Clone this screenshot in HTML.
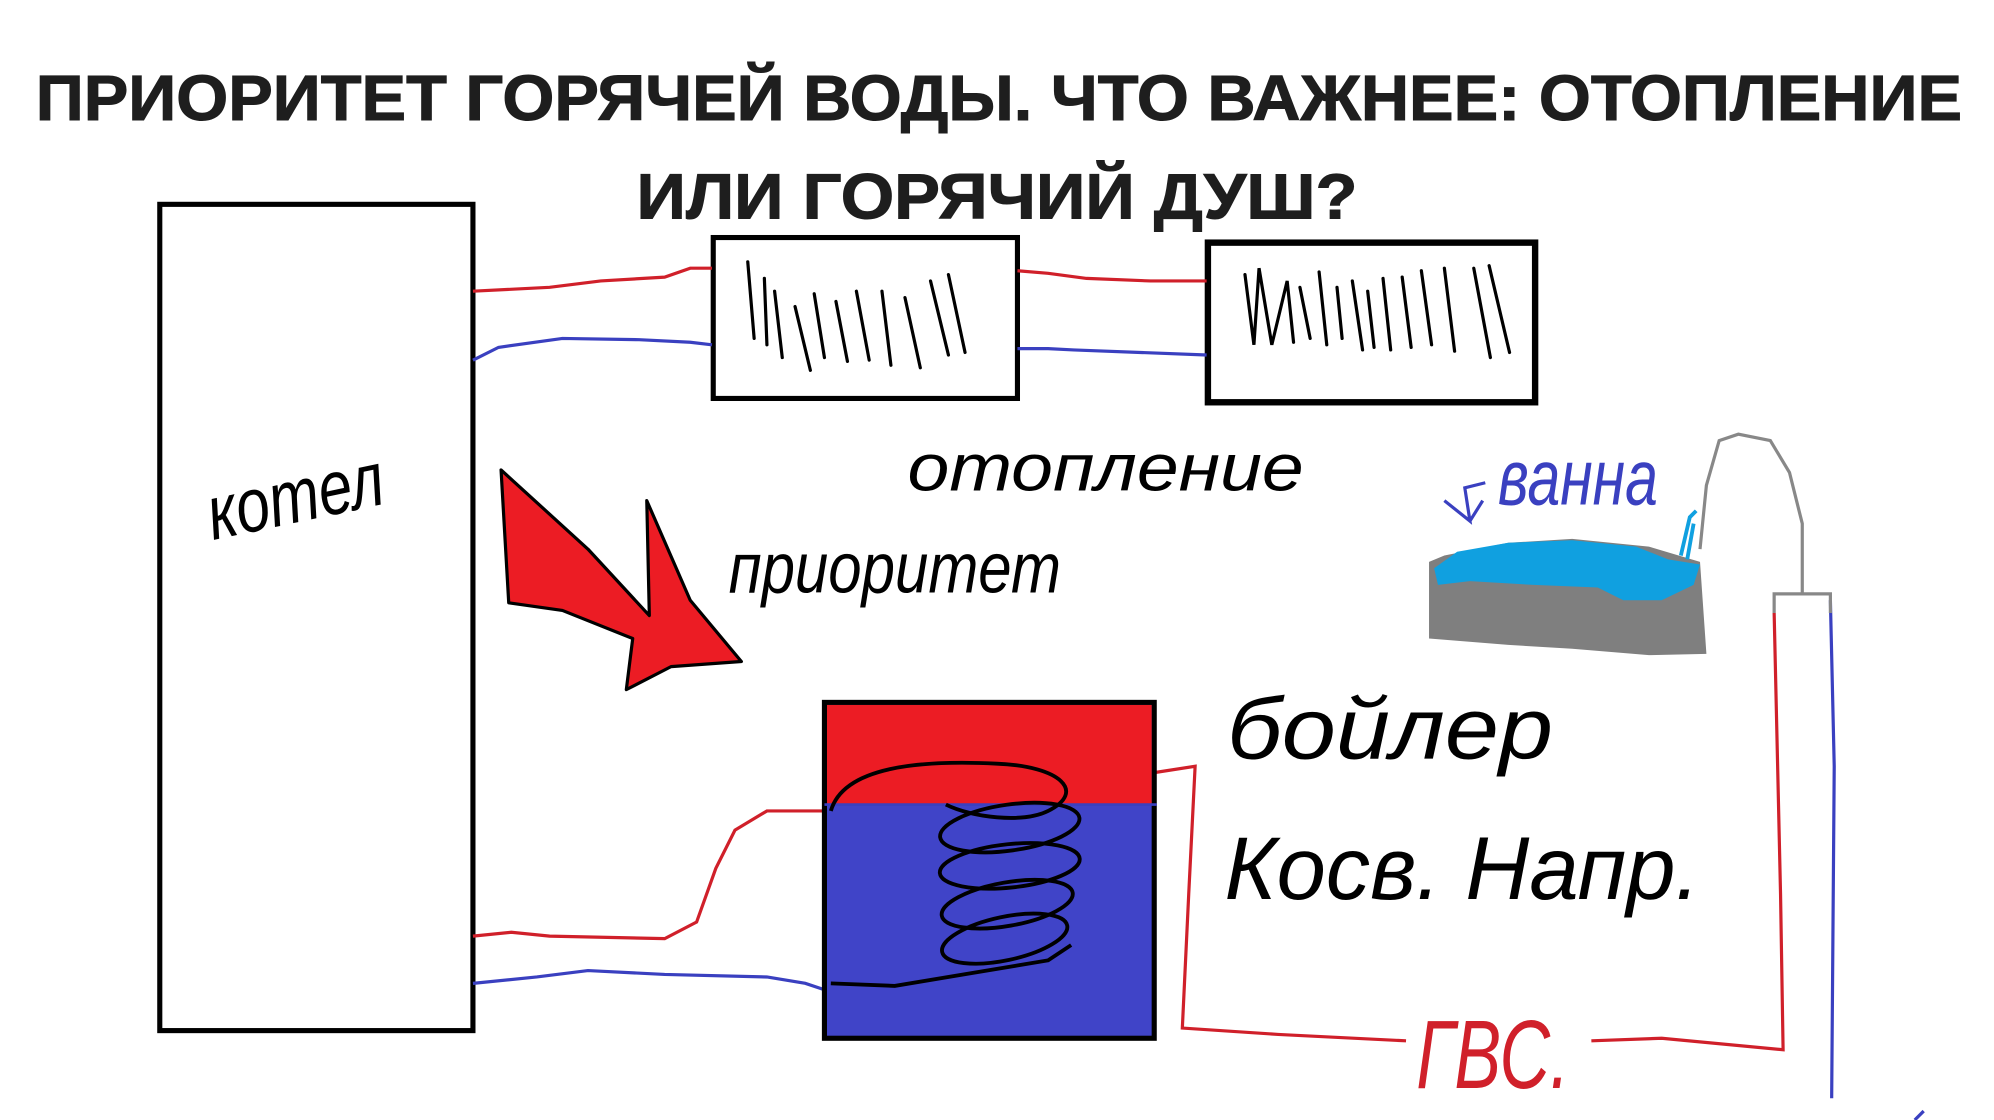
<!DOCTYPE html>
<html><head><meta charset="utf-8"><style>
html,body{margin:0;padding:0;background:#fff;}
svg{display:block;}
.t{font-family:"Liberation Sans","DejaVu Sans",sans-serif;font-weight:bold;fill:#1e1e1e;stroke:#1e1e1e;stroke-width:0.8;}
.h{font-family:"Liberation Sans Narrow","Liberation Sans",sans-serif;font-style:italic;fill:#000;font-weight:normal;}
</style></head><body>
<svg width="1994" height="1120" viewBox="0 0 1560 877" preserveAspectRatio="none" xmlns="http://www.w3.org/2000/svg">
<rect width="1560" height="877" fill="#fff"/>
<text class="t" x="28" y="94" font-size="50" textLength="1507" lengthAdjust="spacingAndGlyphs">ПРИОРИТЕТ ГОРЯЧЕЙ ВОДЫ. ЧТО ВАЖНЕЕ: ОТОПЛЕНИЕ</text>
<text class="t" x="498" y="171" font-size="50" textLength="564" lengthAdjust="spacingAndGlyphs">ИЛИ ГОРЯЧИЙ ДУШ?</text>

<rect x="125" y="160" width="245" height="647" fill="none" stroke="#000" stroke-width="4"/>
<rect x="558" y="186" width="238" height="126" fill="none" stroke="#000" stroke-width="4"/>
<rect x="945" y="190" width="256" height="125" fill="none" stroke="#000" stroke-width="5"/>
<g stroke="#000" stroke-width="2.5" fill="none" stroke-linecap="round">
<path d="M585 205 L590 265 M598 218 L600 270 M606 228 L612 280 M622 240 L634 290 M637 230 L645 280 M654 236 L663 283 M670 228 L680 282 M690 228 L697 286 M708 233 L720 288 M728 220 L742 278 M742 215 L755 276"/>
<path d="M974 215 L981 270 L985 210 L995 270 L1007 220 L1012 268 M1017 225 L1025 265 M1032 213 L1038 270 M1046 225 L1050 265 M1058 220 L1066 274 M1070 228 L1075 272 M1082 218 L1088 274 M1097 217 L1104 272 M1112 212 L1120 270 M1130 210 L1138 275 M1153 210 L1166 280 M1165 208 L1181 276"/>
</g>
<g fill="none" stroke-width="2.5">
<path d="M370 228 L430 225 L470 220 L520 217 L540 210 L557 210" stroke="#d0202a"/>
<path d="M370 282 L390 272 L440 265 L500 266 L540 268 L557 270" stroke="#3a40c0"/>
<path d="M796 212 L820 214 L850 218 L900 220 L944 220" stroke="#d0202a"/>
<path d="M796 273 L820 273 L840 274 L944 278" stroke="#3a40c0"/>
<path d="M370 733 L400 730 L430 733 L520 735 L545 722 L560 680 L575 650 L600 635 L645 635" stroke="#d0202a"/>
<path d="M370 770 L420 765 L460 760 L520 763 L600 765 L630 770 L645 775" stroke="#3a40c0"/>
<path d="M903 605 L935 600 L930 700 L925 805 L1000 810 L1100 815" stroke="#d0202a"/>
<path d="M1245 815 L1300 813 L1395 822 L1393 700 L1388 480" stroke="#d0202a"/>
<path d="M1432 470 L1435 600 L1433 860" stroke="#3a40c0"/>
<path d="M1498 877 L1505 870" stroke="#3a40c0"/>
<path d="M1330 430 L1335 380 L1345 345 L1360 340 L1385 345 L1400 370 L1410 410 L1410 465 L1388 465 L1388 480 M1410 465 L1432 465 L1432 480" stroke="#888"/>
</g>
<path d="M1118 440 L1130 435 L1180 425 L1230 422 L1290 428 L1330 440 L1335 512 L1290 513 L1230 508 L1180 505 L1118 500 Z" fill="#7f7f7f"/>
<path d="M1122 445 L1140 432 L1180 425 L1230 423 L1280 428 L1305 438 L1330 442 L1325 458 L1300 470 L1270 470 L1250 460 L1200 458 L1150 455 L1125 458 Z" fill="#10a0e0"/>
<path d="M1315 435 L1322 405 L1327 400 M1320 438 L1325 410" stroke="#10a0e0" stroke-width="3" fill="none"/>
<rect x="645" y="550" width="258" height="263" fill="#4044c8" stroke="#000" stroke-width="4"/>
<rect x="647" y="552" width="254" height="78" fill="#ec1c24"/>
<line x1="645" y1="630" x2="905" y2="630" stroke="#3a40c0" stroke-width="2"/>
<g fill="none" stroke="#000" stroke-width="3">
<path d="M650 635 C660 600 720 595 780 598 C830 600 850 620 820 635 C800 645 760 640 740 630"/>
<ellipse cx="790" cy="648" rx="55" ry="18" transform="rotate(-8 790 648)"/>
<ellipse cx="790" cy="678" rx="55" ry="17" transform="rotate(-6 790 678)"/>
<ellipse cx="788" cy="708" rx="52" ry="17" transform="rotate(-10 788 708)"/>
<ellipse cx="786" cy="735" rx="50" ry="17" transform="rotate(-12 786 735)"/>
<path d="M650 770 L700 772 L760 762 L820 752 L838 740"/>
</g>
<path d="M392 368 L460 430 L508 482 L506 392 L540 470 L580 518 L525 522 L490 540 L495 500 L440 478 L398 472 Z" fill="#ec1c24" stroke="#000" stroke-width="2.5" stroke-linejoin="round"/>
<g transform="translate(0,0)">
<text class="h" x="160" y="410" font-size="60" transform="rotate(-12 225 385)" textLength="140" lengthAdjust="spacingAndGlyphs">котел</text>
<text class="h" x="710" y="384" font-size="52" textLength="310" lengthAdjust="spacingAndGlyphs">отопление</text>
<text class="h" x="570" y="464" font-size="56" textLength="260" lengthAdjust="spacingAndGlyphs">приоритет</text>
<text class="h" x="960" y="594" font-size="68" textLength="255" lengthAdjust="spacingAndGlyphs">бойлер</text>
<text class="h" x="958" y="704" font-size="70" textLength="372" lengthAdjust="spacingAndGlyphs">Косв. Напр.</text>
<text class="h" x="1108" y="852" font-size="76" style="fill:#d0202a" textLength="120" lengthAdjust="spacingAndGlyphs">ГВС.</text>
<text class="h" x="1172" y="395" font-size="62" style="fill:#3a40c0" textLength="125" lengthAdjust="spacingAndGlyphs">ванна</text>
</g>
<path d="M1162 378 L1146 382 L1150 408 L1130 392 M1150 408 L1160 392" stroke="#3a40c0" stroke-width="2.5" fill="none"/>
</svg>
</body></html>
